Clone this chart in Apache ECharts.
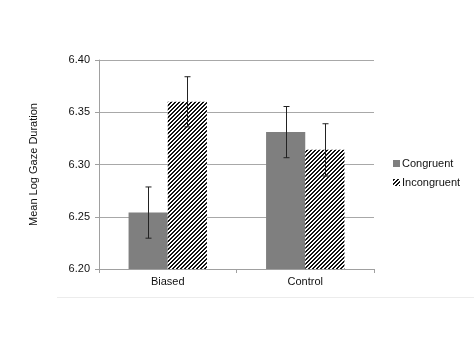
<!DOCTYPE html>
<html>
<head>
<meta charset="utf-8">
<script src="https://cdn.jsdelivr.net/npm/echarts@6/dist/echarts.min.js"></script>
<style>
html,body{margin:0;padding:0;background:#fff;}
#chart{width:474px;height:355px;}
</style>
</head>
<body>
<div id="chart"></div>
<script>
var categories = ['Biased', 'Control'];
var seriesNames = ['Congruent', 'Incongruent'];
var congruent = [6.254, 6.331];
var incongruent = [6.360, 6.314];
var congruentErr = [0.0245, 0.0245];
var incongruentErr = [0.024, 0.025];
var yTicks = [6.20, 6.25, 6.30, 6.35, 6.40];

function makeHatch() {
  var n = 4;
  var c = document.createElement('canvas');
  c.width = n; c.height = n;
  var ctx = c.getContext('2d');
  ctx.fillStyle = '#ffffff';
  ctx.fillRect(0, 0, n, n);
  ctx.fillStyle = '#111111';
  for (var x = 0; x < n; x++) {
    for (var y = 0; y < n; y++) {
      var m = (x + y) % n;
      if (m === 0 || m === 1) ctx.fillRect(x, y, 1, 1);
    }
  }
  return c;
}
var hatch = { image: makeHatch(), repeat: 'repeat' };

var BAR_FRAC = 0.285;
var FONT = 'Liberation Sans, Arial, sans-serif';

function errData(vals, errs) {
  return vals.map(function (v, i) { return [i, v - errs[i], v + errs[i]]; });
}

function errRender(side) {
  return function (params, api) {
    var idx = api.value(0);
    var lo = api.coord([idx, api.value(1)]);
    var hi = api.coord([idx, api.value(2)]);
    var band = api.size([1, 0])[0];
    var bw = band * BAR_FRAC;
    var x = Math.round(lo[0] + side * bw / 2) + 0.5;
    var cap = 3;
    var st = { stroke: '#222', lineWidth: 1 };
    return {
      type: 'group',
      children: [
        { type: 'line', shape: { x1: x, y1: hi[1], x2: x, y2: lo[1] }, style: st },
        { type: 'line', shape: { x1: x - cap, y1: hi[1], x2: x + cap, y2: hi[1] }, style: st },
        { type: 'line', shape: { x1: x - cap, y1: lo[1], x2: x + cap, y2: lo[1] }, style: st }
      ]
    };
  };
}

var chart = echarts.init(document.getElementById('chart'), null, { renderer: 'canvas' });
chart.setOption({
  animation: false,
  backgroundColor: '#fff',
  textStyle: { fontFamily: FONT },
  grid: { left: 99, right: 100, top: 60, bottom: 86, containLabel: false },
  legend: {
    orient: 'vertical',
    left: 388,
    top: 153,
    itemWidth: 7,
    itemHeight: 7,
    itemGap: 8,
    icon: 'rect',
    data: seriesNames,
    textStyle: { fontSize: 11, color: '#111', fontFamily: FONT, padding: [0, 0, 0, -3] }
  },
  xAxis: {
    type: 'category',
    data: categories,
    axisLine: { lineStyle: { color: '#a0a0a0', width: 1 } },
    axisTick: { show: true, alignWithLabel: false, length: 4, lineStyle: { color: '#a0a0a0' } },
    axisLabel: { fontSize: 11, color: '#111', margin: 7, fontFamily: FONT },
    splitLine: { show: false }
  },
  yAxis: {
    type: 'value',
    min: 6.20,
    max: 6.40,
    interval: 0.05,
    name: 'Mean Log Gaze Duration',
    nameLocation: 'middle',
    nameRotate: 90,
    nameGap: 60,
    nameTextStyle: { fontSize: 11, color: '#111', fontFamily: FONT },
    axisLine: { show: true, lineStyle: { color: '#a0a0a0', width: 1 } },
    axisTick: { show: true, length: 4, lineStyle: { color: '#a0a0a0' } },
    axisLabel: {
      fontSize: 11, color: '#111', margin: 9, fontFamily: FONT,
      formatter: function (v) { return v.toFixed(2); }
    },
    splitLine: { show: true, lineStyle: { color: '#a8a8a8', width: 1 } }
  },
  series: [
    {
      name: seriesNames[0],
      type: 'bar',
      data: congruent,
      barWidth: (BAR_FRAC * 100) + '%',
      barGap: '0%',
      itemStyle: { color: '#7f7f7f' },
      z: 2
    },
    {
      name: seriesNames[1],
      type: 'bar',
      data: incongruent,
      barWidth: (BAR_FRAC * 100) + '%',
      barGap: '0%',
      itemStyle: { color: hatch },
      z: 2
    },
    {
      type: 'custom',
      data: errData(congruent, congruentErr),
      renderItem: errRender(-1),
      encode: { x: 0, y: [1, 2] },
      z: 5,
      silent: true
    },
    {
      type: 'custom',
      data: errData(incongruent, incongruentErr),
      renderItem: errRender(1),
      encode: { x: 0, y: [1, 2] },
      z: 5,
      silent: true
    }
  ],
  graphic: [
    {
      type: 'line',
      shape: { x1: 57, y1: 297.5, x2: 474, y2: 297.5 },
      style: { stroke: '#ececec', lineWidth: 1 }
    }
  ]
});
</script>
</body>
</html>
